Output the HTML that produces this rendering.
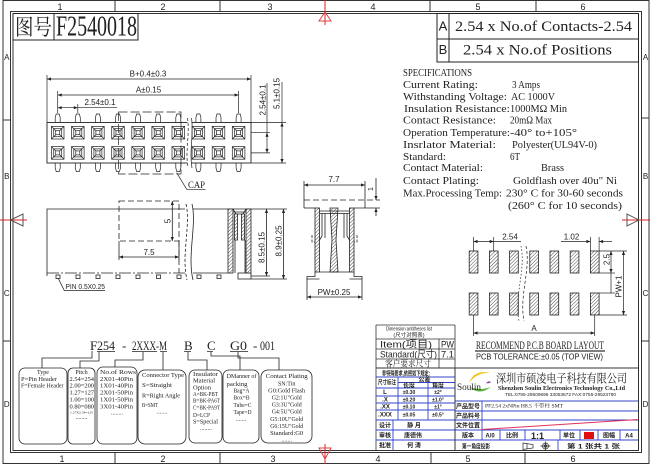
<!DOCTYPE html>
<html><head><meta charset="utf-8"><style>
html,body{margin:0;padding:0;background:#fff;}
svg{display:block;}
text{font-family:"Liberation Serif","Noto Serif CJK SC",serif;fill:#222;stroke:none;}
.s{font-family:"Liberation Sans","Noto Sans CJK SC",sans-serif;}
.c{font-family:"Liberation Sans","Noto Sans CJK SC",sans-serif;font-weight:bold;}
</style></head><body>
<svg width="650" height="464" viewBox="0 0 650 464" xmlns="http://www.w3.org/2000/svg">
<defs>
<marker id="a" viewBox="0 0 10 10" refX="10" refY="5" markerWidth="5" markerHeight="4" orient="auto-start-reverse" markerUnits="userSpaceOnUse"><path d="M0,1 L10,5 L0,9z" fill="#222"/></marker>
<pattern id="h" width="2.5" height="2.5" patternUnits="userSpaceOnUse" patternTransform="rotate(45)"><rect width="2.5" height="2.5" fill="#fff"/><line x1="0" y1="0" x2="0" y2="2.5" stroke="#333" stroke-width="0.9"/></pattern>
<g id="sq" stroke="#222" stroke-width="0.7" fill="none">
<rect x="-6.3" y="-6.3" width="12.6" height="12.6"/>
<rect x="-4" y="-4" width="8" height="8"/>
<rect x="-2" y="-2" width="4" height="4"/>
<path d="M-6.3,-6.3L-2,-2M6.3,-6.3L2,-2M-6.3,6.3L-2,2M6.3,6.3L2,2"/>
</g>
<path id="pu" d="M-2.5,0 L-2.5,-5 L-1.5,-8.5 L1.5,-8.5 L2.5,-5 L2.5,0" stroke="#222" stroke-width="0.7" fill="none"/>
<path id="pd" d="M-2.5,0 L-2.5,5 L-1.5,8.5 L1.5,8.5 L2.5,5 L2.5,0" stroke="#222" stroke-width="0.7" fill="none"/>
</defs>

<!-- FRAME -->
<g stroke="#333" fill="none" stroke-width="1">
<rect x="3" y="0.5" width="646" height="463"/>
<rect x="10.5" y="11.5" width="631" height="441"/>
<rect x="13" y="13.5" width="625.5" height="437"/>
<path d="M115,0.5V11.5M220,0.5V11.5M430,0.5V11.5M536,0.5V11.5"/>
<path d="M115,452.5V463.5M220,452.5V463.5M431,452.5V463.5M525,452.5V463.5"/>
<path d="M3,120H10.5M3,341H10.5M641.5,118H649M641.5,341H649"/>
</g>
<g class="s" font-size="9" text-anchor="middle">
<text class="s" x="60" y="10">1</text><text class="s" x="163" y="10">2</text><text class="s" x="270" y="10">3</text>
<text class="s" x="373" y="10">4</text><text class="s" x="478" y="10">5</text><text class="s" x="583" y="10">6</text>
<text class="s" x="62" y="462">1</text><text class="s" x="163" y="462">2</text><text class="s" x="273" y="462">3</text>
<text class="s" x="378" y="462">4</text><text class="s" x="468" y="462">5</text><text class="s" x="573" y="462">6</text>
<text class="s" x="6.8" y="60" font-size="8">A</text><text class="s" x="6.8" y="179" font-size="8">B</text>
<text class="s" x="6.8" y="296" font-size="8">C</text><text class="s" x="6.8" y="407" font-size="8">D</text>
<text class="s" x="645.5" y="60" font-size="8">A</text><text class="s" x="645.5" y="179" font-size="8">B</text>
<text class="s" x="645.5" y="296" font-size="8">C</text><text class="s" x="645.5" y="407" font-size="8">D</text>
</g>
<!-- markers -->
<g fill="none" stroke-width="1">
<line x1="0" y1="220" x2="27" y2="220" stroke="#e02020"/>
<path d="M10.5,220 L23,214 L23,226Z" stroke="#555"/>
<line x1="622" y1="220" x2="650" y2="220" stroke="#e02020"/>
<path d="M639,220 L627,214 L627,226Z" stroke="#555"/>
<line x1="325" y1="0" x2="325" y2="25" stroke="#e02020"/>
<path d="M325,12 L319,21 L331,21Z" stroke="#e04040"/>
<line x1="325" y1="444" x2="325" y2="464" stroke="#e02020"/>
<path d="M319,448 L331,448 L325,459Z" stroke="#e04040"/>
</g>

<!-- TITLE top-left -->
<g stroke="#222" fill="none" stroke-width="1">
<rect x="13" y="13.5" width="125" height="26.5"/>
<line x1="54" y1="13.5" x2="54" y2="40"/>
</g>
<text x="15" y="35" font-size="22" font-family="'Noto Sans CJK SC',sans-serif" textLength="37" lengthAdjust="spacingAndGlyphs">图号</text>
<text x="56" y="35.5" font-size="28" textLength="81" lengthAdjust="spacingAndGlyphs">F2540018</text>

<!-- A/B table -->
<g stroke="#222" fill="none" stroke-width="1">
<rect x="437" y="13.5" width="201.5" height="48.5"/>
<line x1="437" y1="39" x2="638.5" y2="39"/>
<line x1="449" y1="13.5" x2="449" y2="62"/>
</g>
<text class="s" x="443" y="30.5" font-size="13" text-anchor="middle">A</text>
<text class="s" x="443" y="54" font-size="13" text-anchor="middle">B</text>
<text x="455" y="31" font-size="15" textLength="177" lengthAdjust="spacingAndGlyphs">2.54 x No.of Contacts-2.54</text>
<text x="463" y="54.5" font-size="15" textLength="149" lengthAdjust="spacingAndGlyphs">2.54 x No.of Positions</text>

<!-- SPECIFICATIONS -->
<g font-size="11" fill="#333">
<text x="403" y="76" textLength="69" lengthAdjust="spacingAndGlyphs">SPECIFICATIONS</text>
<text x="403" y="88" textLength="75" lengthAdjust="spacingAndGlyphs">Current Rating:</text>
<text x="512" y="88" textLength="28" lengthAdjust="spacingAndGlyphs">3 Amps</text>
<text x="403" y="100" textLength="104" lengthAdjust="spacingAndGlyphs">Withstanding Voltage:</text>
<text x="511" y="100" textLength="44" lengthAdjust="spacingAndGlyphs">AC  1000V</text>
<text x="404" y="112" textLength="106" lengthAdjust="spacingAndGlyphs">Insulation Resistance:</text>
<text x="510" y="112" textLength="57" lengthAdjust="spacingAndGlyphs">1000MΩ  Min</text>
<text x="403" y="123.5" textLength="93" lengthAdjust="spacingAndGlyphs">Contact Resistance:</text>
<text x="510" y="123.5" textLength="42" lengthAdjust="spacingAndGlyphs">20mΩ Max</text>
<text x="403" y="136" textLength="107" lengthAdjust="spacingAndGlyphs">Operation Temperature:</text>
<text x="510" y="136" textLength="67" lengthAdjust="spacingAndGlyphs">-40° to+105°</text>
<text x="403" y="148" textLength="93" lengthAdjust="spacingAndGlyphs">Insrlator Material:</text>
<text x="512" y="148" textLength="85" lengthAdjust="spacingAndGlyphs">Polyester(UL94V-0)</text>
<text x="403" y="160" textLength="43" lengthAdjust="spacingAndGlyphs">Standard:</text>
<text x="510" y="160" textLength="10" lengthAdjust="spacingAndGlyphs">6T</text>
<text x="403" y="171" textLength="80" lengthAdjust="spacingAndGlyphs">Contact Material:</text>
<text x="541" y="171" textLength="23" lengthAdjust="spacingAndGlyphs">Brass</text>
<text x="403" y="184" textLength="76" lengthAdjust="spacingAndGlyphs">Contact Plating:</text>
<text x="513" y="184" textLength="104" lengthAdjust="spacingAndGlyphs">Goldflash over 40u" Ni</text>
<text x="403" y="196.5" textLength="99" lengthAdjust="spacingAndGlyphs">Max.Processing Temp:</text>
<text x="506" y="196.5" textLength="117" lengthAdjust="spacingAndGlyphs">230° C for 30-60 seconds</text>
<text x="508" y="209" textLength="114" lengthAdjust="spacingAndGlyphs">(260° C for  10 seconds)</text>
</g>

<!-- TOP VIEW -->
<g stroke="#222" stroke-width="0.7" fill="none">
<line x1="47" y1="79" x2="251" y2="79" marker-start="url(#a)" marker-end="url(#a)"/>
<line x1="47" y1="75" x2="47" y2="122.5"/>
<line x1="251" y1="75" x2="251" y2="122.5"/>
<line x1="57.7" y1="95" x2="238.6" y2="95" marker-start="url(#a)" marker-end="url(#a)"/>
<line x1="57.7" y1="91" x2="57.7" y2="113"/>
<line x1="238.6" y1="91" x2="238.6" y2="113"/>
<line x1="57.7" y1="107.7" x2="77.8" y2="107.7" marker-start="url(#a)" marker-end="url(#a)"/>
<line x1="77.8" y1="107.7" x2="117" y2="107.7"/>
<line x1="77.8" y1="104" x2="77.8" y2="113"/>
<rect x="47" y="122.5" width="204" height="40.5" stroke-width="0.9"/>
<!-- right dims -->
<line x1="251" y1="122.5" x2="286" y2="122.5"/>
<line x1="251" y1="163" x2="286" y2="163"/>
<line x1="251" y1="132.7" x2="270" y2="132.7"/>
<line x1="251" y1="152.9" x2="270" y2="152.9"/>
<line x1="267" y1="83" x2="267" y2="132.7"/>
<line x1="267" y1="132.7" x2="267" y2="152.9" marker-start="url(#a)" marker-end="url(#a)"/>
<line x1="282" y1="82" x2="282" y2="122.5"/>
<line x1="282" y1="122.5" x2="282" y2="163" marker-start="url(#a)" marker-end="url(#a)"/>
</g>
<g>
<use href="#sq" x="57.7" y="132.7"/><use href="#sq" x="77.8" y="132.7"/><use href="#sq" x="97.9" y="132.7"/><use href="#sq" x="118" y="132.7"/><use href="#sq" x="138.1" y="132.7"/><use href="#sq" x="158.2" y="132.7"/><use href="#sq" x="178.3" y="132.7"/><use href="#sq" x="198.4" y="132.7"/><use href="#sq" x="218.5" y="132.7"/><use href="#sq" x="238.6" y="132.7"/>
<use href="#sq" x="57.7" y="152.9"/><use href="#sq" x="77.8" y="152.9"/><use href="#sq" x="97.9" y="152.9"/><use href="#sq" x="118" y="152.9"/><use href="#sq" x="138.1" y="152.9"/><use href="#sq" x="158.2" y="152.9"/><use href="#sq" x="178.3" y="152.9"/><use href="#sq" x="198.4" y="152.9"/><use href="#sq" x="218.5" y="152.9"/><use href="#sq" x="238.6" y="152.9"/>
<use href="#pu" x="57.7" y="122.5"/><use href="#pu" x="77.8" y="122.5"/><use href="#pu" x="97.9" y="122.5"/><use href="#pu" x="118" y="122.5"/><use href="#pu" x="138.1" y="122.5"/><use href="#pu" x="158.2" y="122.5"/><use href="#pu" x="178.3" y="122.5"/><use href="#pu" x="198.4" y="122.5"/><use href="#pu" x="218.5" y="122.5"/><use href="#pu" x="238.6" y="122.5"/>
<use href="#pd" x="57.7" y="163"/><use href="#pd" x="77.8" y="163"/><use href="#pd" x="97.9" y="163"/><use href="#pd" x="118" y="163"/><use href="#pd" x="138.1" y="163"/><use href="#pd" x="158.2" y="163"/><use href="#pd" x="178.3" y="163"/><use href="#pd" x="198.4" y="163"/><use href="#pd" x="218.5" y="163"/><use href="#pd" x="238.6" y="163"/>
</g>
<g stroke="#222" stroke-width="0.7" fill="none">
<rect x="187.5" y="120" width="4" height="46" fill="#fff" stroke="none"/>
<path d="M187.5,118 C190,135 185,150 188,168" stroke-dasharray="3,2"/>
<path d="M191.5,118 C194,135 189,150 192,168"/>
<rect x="118.5" y="112" width="62.5" height="62" stroke-dasharray="9,3"/>
<polyline points="176.7,172.7 186.7,189.3 205.5,189.3"/>
</g>
<text x="188" y="188" font-size="9.5" textLength="17" lengthAdjust="spacingAndGlyphs">CAP</text>
<g class="s" font-size="8">
<text class="s" x="148" y="76.5" text-anchor="middle">B+0.4±0.3</text>
<text class="s" x="148.5" y="92.5" text-anchor="middle">A±0.15</text>
<text class="s" x="100" y="105" text-anchor="middle">2.54±0.1</text>
<text class="s" transform="translate(265.5,100) rotate(-90)" text-anchor="middle">2.54±0.1</text>
<text class="s" transform="translate(279.5,93.5) rotate(-90)" text-anchor="middle">5.1±0.15</text>
</g>

<!-- SIDE VIEW -->
<g stroke="#222" stroke-width="0.8" fill="none">
<polyline points="185,209 47,209 47,276"/>
<line x1="193" y1="209" x2="251" y2="209"/>
<line x1="47" y1="273" x2="186" y2="273" stroke-dasharray="12,2,2,2"/>
<line x1="193" y1="273" x2="228" y2="273"/>
<path d="M186,204 C191,225 181,255 187,280" stroke-dasharray="3,2"/>
<path d="M192,204 C197,225 187,255 193,280"/>
<rect x="119" y="201" width="60" height="40" stroke-dasharray="6,3"/>
<line x1="179" y1="241" x2="179" y2="273" stroke-dasharray="6,3"/>
<line x1="119" y1="241" x2="119" y2="260"/>
<line x1="179" y1="241" x2="179" y2="260"/>
<line x1="119" y1="257" x2="179" y2="257" marker-start="url(#a)" marker-end="url(#a)"/>
<line x1="172.3" y1="201" x2="172.3" y2="241" marker-start="url(#a)" marker-end="url(#a)"/>
<rect x="56" y="275" width="4" height="3.5"/><rect x="76" y="275" width="4" height="3.5"/><rect x="96" y="275" width="4" height="3.5"/><rect x="116" y="275" width="4" height="3.5"/><rect x="136" y="275" width="4" height="3.5"/><rect x="156.5" y="275" width="4" height="3.5"/><rect x="177" y="275" width="4" height="3.5"/><rect x="197" y="275" width="4" height="3.5"/><rect x="217" y="275" width="4" height="3.5"/>
<rect x="238" y="273" width="13" height="6"/>
<rect x="228" y="209" width="5" height="64" fill="url(#h)"/>
<rect x="246" y="209" width="5" height="64" fill="url(#h)"/>
<polyline points="233,209 236,214 243,214 246,209"/>
<line x1="233" y1="212" x2="246" y2="212"/>
<rect x="234.5" y="214" width="3" height="26" fill="url(#h)"/>
<rect x="241.5" y="214" width="3" height="26" fill="url(#h)"/>
<line x1="235" y1="240" x2="235" y2="273"/>
<line x1="245" y1="240" x2="245" y2="273"/>
<line x1="251" y1="209" x2="287" y2="209"/>
<line x1="251" y1="276" x2="270" y2="276"/>
<line x1="251" y1="279" x2="287" y2="279"/>
<line x1="266.5" y1="209" x2="266.5" y2="276" marker-start="url(#a)" marker-end="url(#a)"/>
<line x1="283.5" y1="209" x2="283.5" y2="279" marker-start="url(#a)" marker-end="url(#a)"/>
<polyline points="58.3,278.5 64.3,290.5 105,290.5"/>
</g>
<g class="s" font-size="8">
<text class="s" x="149" y="255" text-anchor="middle">7.5</text>
<text class="s" transform="translate(170.5,221) rotate(-90)" text-anchor="middle">5</text>
<text class="s" transform="translate(264.5,247.5) rotate(-90)" text-anchor="middle">8.5±0.15</text>
<text class="s" transform="translate(281.5,241) rotate(-90)" text-anchor="middle">8.9±0.25</text>
<text class="s" x="65.5" y="289" font-size="7" textLength="39.5" lengthAdjust="spacingAndGlyphs">PIN 0.5X0.25</text>
</g>

<!-- FRONT SECTION -->
<g stroke="#222" stroke-width="0.8" fill="none">
<line x1="304" y1="185" x2="365" y2="185" marker-start="url(#a)" marker-end="url(#a)"/>
<line x1="304" y1="181" x2="304" y2="208"/>
<line x1="365" y1="181" x2="365" y2="208"/>
<line x1="304" y1="200" x2="380" y2="200" stroke-dasharray="6,3"/>
<line x1="304" y1="208" x2="315" y2="208"/>
<line x1="354" y1="208" x2="380" y2="208"/>
<line x1="376" y1="178" x2="376" y2="200" marker-end="url(#a)"/>
<line x1="376" y1="216" x2="376" y2="208" marker-end="url(#a)"/>
<rect x="315" y="208" width="4.5" height="64" fill="url(#h)"/>
<rect x="349.5" y="208" width="4.5" height="64" fill="url(#h)"/>
<path d="M330,208 L338,208 L336,240 L338,272 L330,272 L332,240Z" fill="url(#h)"/>
<line x1="319.5" y1="211" x2="349.5" y2="211"/>
<line x1="319.5" y1="213.5" x2="349.5" y2="213.5"/>
<polyline points="322,213.5 322,236 319.5,240"/>
<polyline points="325,213.5 325,238"/>
<polyline points="347,213.5 347,236 349.5,240"/>
<polyline points="344,213.5 344,238"/>
<polyline points="312,235 312,242 315,242" stroke-dasharray="3,1.5"/>
<polyline points="357,235 357,242 354,242" stroke-dasharray="3,1.5"/>
<line x1="319.5" y1="272" x2="349.5" y2="272"/>
<polyline points="315,272 315,276.5 307,276.5 307,279 319.5,279"/>
<polyline points="354,272 354,276.5 362,276.5 362,279 349.5,279"/>
<line x1="307" y1="279" x2="307" y2="300"/>
<line x1="362" y1="279" x2="362" y2="300"/>
<line x1="307" y1="297" x2="362" y2="297" marker-start="url(#a)" marker-end="url(#a)"/>
</g>
<g class="s" font-size="8">
<text class="s" x="334" y="182" text-anchor="middle">7.7</text>
<text class="s" transform="translate(373,189) rotate(-90)" text-anchor="middle" font-size="7">1</text>
<text class="s" x="334" y="295" text-anchor="middle">PW±0.25</text>
</g>

<!-- PCB LAYOUT -->
<g stroke="#222" stroke-width="0.8" fill="url(#h)">
<rect x="469.2" y="251" width="8.7" height="22"/><rect x="489.4" y="251" width="8.7" height="22"/><rect x="509.6" y="251" width="8.7" height="22"/><rect x="529.8" y="251" width="8.7" height="22"/><rect x="550" y="251" width="8.7" height="22"/><rect x="570.2" y="251" width="8.7" height="22"/><rect x="590.4" y="251" width="8.7" height="22"/>
<rect x="469.2" y="293" width="8.7" height="22"/><rect x="489.4" y="293" width="8.7" height="22"/><rect x="509.6" y="293" width="8.7" height="22"/><rect x="529.8" y="293" width="8.7" height="22"/><rect x="550" y="293" width="8.7" height="22"/><rect x="570.2" y="293" width="8.7" height="22"/><rect x="590.4" y="293" width="8.7" height="22"/>
</g>
<g stroke="#222" stroke-width="0.7" fill="none">
<path d="M526,246 C531,270 519,295 524,321" stroke-dasharray="3,2"/>
<path d="M521,246 C526,270 514,295 519,321" stroke-dasharray="1.5,2"/>
<line x1="473.5" y1="237" x2="473.5" y2="251"/>
<line x1="493.7" y1="237" x2="493.7" y2="251"/>
<line x1="473.5" y1="241.5" x2="493.7" y2="241.5" marker-start="url(#a)" marker-end="url(#a)"/>
<line x1="493.7" y1="241.5" x2="521" y2="241.5"/>
<line x1="590.4" y1="237" x2="590.4" y2="251"/>
<line x1="599.1" y1="237" x2="599.1" y2="251"/>
<line x1="561" y1="241.5" x2="590.4" y2="241.5" marker-end="url(#a)"/>
<line x1="612" y1="241.5" x2="599.1" y2="241.5" marker-end="url(#a)"/>
<line x1="599.1" y1="251" x2="627" y2="251"/>
<line x1="599.1" y1="273" x2="615" y2="273"/>
<line x1="599.1" y1="293" x2="615" y2="293"/>
<line x1="599.1" y1="315" x2="627" y2="315"/>
<line x1="611" y1="251" x2="611" y2="273" marker-start="url(#a)" marker-end="url(#a)"/>
<line x1="611" y1="273" x2="611" y2="293"/>
<line x1="623.5" y1="251" x2="623.5" y2="315" marker-start="url(#a)" marker-end="url(#a)"/>
<line x1="473.5" y1="315" x2="473.5" y2="336"/>
<line x1="594.7" y1="315" x2="594.7" y2="336"/>
<line x1="473.5" y1="333" x2="594.7" y2="333" marker-start="url(#a)" marker-end="url(#a)"/>
</g>
<g class="s" font-size="8">
<text class="s" x="510" y="239.5" text-anchor="middle">2.54</text>
<text class="s" x="571.5" y="239.5" text-anchor="middle">1.02</text>
<text class="s" transform="translate(609.5,259.5) rotate(-90)" text-anchor="middle">2.5</text>
<text class="s" transform="translate(621.5,286.5) rotate(-90)" text-anchor="middle">PW+1</text>
<text class="s" x="534" y="331" text-anchor="middle">A</text>
</g>
<text x="476" y="349" font-size="11.5" fill="#333" textLength="128" lengthAdjust="spacingAndGlyphs">RECOMMEND P.C.B BOARD LAYOUT</text>
<line x1="475" y1="351" x2="605" y2="351" stroke="#333" stroke-width="1.3"/>
<text class="s" x="476" y="359.5" font-size="8.5" textLength="127" lengthAdjust="spacingAndGlyphs">PCB TOLERANCE:±0.05 (TOP VIEW)</text>

<!-- PART NUMBER -->
<g font-size="13" fill="#222">
<text x="90" y="350">F</text>
<text x="97" y="350" textLength="18" lengthAdjust="spacingAndGlyphs">254</text>
<text x="122" y="350">-</text>
<text x="132" y="350" textLength="35" lengthAdjust="spacingAndGlyphs">2XXX-M</text>
<text x="184" y="350">B</text>
<text x="207" y="350">C</text>
<text x="230" y="350" textLength="17" lengthAdjust="spacingAndGlyphs">G0</text>
<text x="253" y="350">-</text>
<text x="260" y="350" textLength="15" lengthAdjust="spacingAndGlyphs">001</text>
</g>
<g stroke="#222" stroke-width="0.8" fill="none">
<path d="M97,351.5H115M132,351.5H157M160,351.5H167M184,351.5H191M207,351.5H213M230,351.5H248"/>
<polyline points="92,351 92,358 42,358 42,368"/>
<polyline points="99,352 99,361 80,361 80,368"/>
<polyline points="143,352 143,360 115,360 115,367"/>
<line x1="163" y1="352" x2="163" y2="370"/>
<polyline points="188,352 188,360 207,360 207,370"/>
<polyline points="211,352 211,356 240,356 240,370"/>
<polyline points="238,352 238,358 279,358 279,370"/>
<rect x="19" y="368" width="48" height="76" rx="6"/>
<rect x="68" y="368" width="27" height="76" rx="5"/>
<rect x="97" y="367" width="40" height="77" rx="6"/>
<rect x="138" y="370" width="48" height="74" rx="7"/>
<rect x="189" y="370" width="33" height="73" rx="6"/>
<rect x="223" y="370" width="36" height="73" rx="6"/>
<rect x="261" y="370" width="51" height="73" rx="7"/>
</g>
<g font-size="6" fill="#333">
<text x="43" y="374" text-anchor="middle">Type</text>
<text x="21" y="381" textLength="36" lengthAdjust="spacingAndGlyphs">P=Pin Header</text>
<text x="21" y="387.5" textLength="42.5" lengthAdjust="spacingAndGlyphs">F=Female Header</text>
<text x="81.5" y="374" text-anchor="middle">Pitch</text>
<text x="69.5" y="381" textLength="24.5" lengthAdjust="spacingAndGlyphs">2.54=254</text>
<text x="69.5" y="387.5" textLength="24.5" lengthAdjust="spacingAndGlyphs">2.00=200</text>
<text x="69.5" y="394.5" textLength="24.5" lengthAdjust="spacingAndGlyphs">1.27=127</text>
<text x="69.5" y="401.5" textLength="24.5" lengthAdjust="spacingAndGlyphs">1.00=100</text>
<text x="69.5" y="408.5" textLength="24.5" lengthAdjust="spacingAndGlyphs">0.80=080</text>
<text x="70" y="413.5" font-size="3.5" textLength="23" lengthAdjust="spacingAndGlyphs">1.27X2.54=125</text>
<text x="81.5" y="419" text-anchor="middle">........</text>
<text x="100" y="374" textLength="36" lengthAdjust="spacingAndGlyphs">No.of Rows</text>
<text x="100" y="381" textLength="33" lengthAdjust="spacingAndGlyphs">2X01-40Pin</text>
<text x="100" y="387.5" textLength="33" lengthAdjust="spacingAndGlyphs">1X01-40Pin</text>
<text x="100" y="394.5" textLength="33" lengthAdjust="spacingAndGlyphs">2X01-50Pin</text>
<text x="100" y="401.5" textLength="33" lengthAdjust="spacingAndGlyphs">1X01-50Pin</text>
<text x="100" y="408.5" textLength="33" lengthAdjust="spacingAndGlyphs">3X01-40Pin</text>
<text x="117" y="414.5" text-anchor="middle">........</text>
<text x="142" y="377" textLength="42" lengthAdjust="spacingAndGlyphs">Connector Type</text>
<text x="142" y="387" textLength="30" lengthAdjust="spacingAndGlyphs">S=Straight</text>
<text x="142" y="397.5" textLength="38" lengthAdjust="spacingAndGlyphs">R=Right Angle</text>
<text x="142" y="407" textLength="16" lengthAdjust="spacingAndGlyphs">B=SMT</text>
<text x="162" y="413.5" text-anchor="middle">.......</text>
<text x="193" y="376" textLength="25" lengthAdjust="spacingAndGlyphs">Insulator</text>
<text x="193" y="382.7" textLength="22" lengthAdjust="spacingAndGlyphs">Material</text>
<text x="193" y="389.3" textLength="18" lengthAdjust="spacingAndGlyphs">Option</text>
<text x="193" y="396" textLength="25" lengthAdjust="spacingAndGlyphs">A=BK-PBT</text>
<text x="193" y="402.7" textLength="27" lengthAdjust="spacingAndGlyphs">B=BK-PA6T</text>
<text x="193" y="409.7" textLength="27" lengthAdjust="spacingAndGlyphs">C=BK-PA9T</text>
<text x="193" y="417" textLength="17" lengthAdjust="spacingAndGlyphs">D=LCP</text>
<text x="193" y="423.7" textLength="25" lengthAdjust="spacingAndGlyphs">S=Special</text>
<text x="206" y="430" text-anchor="middle">........</text>
<text x="226.5" y="378" textLength="30" lengthAdjust="spacingAndGlyphs">DManner of</text>
<text x="226.5" y="386" textLength="21" lengthAdjust="spacingAndGlyphs">packing</text>
<text x="233.5" y="392.7" textLength="16" lengthAdjust="spacingAndGlyphs">Bag=A</text>
<text x="233.5" y="399.7" textLength="16" lengthAdjust="spacingAndGlyphs">Box=B</text>
<text x="233.5" y="407" textLength="18" lengthAdjust="spacingAndGlyphs">Tube=C</text>
<text x="233.5" y="414" textLength="18" lengthAdjust="spacingAndGlyphs">Tape=D</text>
<text x="241" y="421" text-anchor="middle">.......</text>
<g text-anchor="middle">
<text x="286.7" y="378" textLength="42" lengthAdjust="spacingAndGlyphs">Contact Plating</text>
<text x="286.7" y="385.3">SN:Tin</text>
<text x="286.7" y="392.7" textLength="37" lengthAdjust="spacingAndGlyphs">G0:Gold Flash</text>
<text x="286.7" y="399.7" textLength="30" lengthAdjust="spacingAndGlyphs">G2:1U"Gold</text>
<text x="286.7" y="406.7" textLength="30" lengthAdjust="spacingAndGlyphs">G3:3U"Gold</text>
<text x="286.7" y="413.7" textLength="30" lengthAdjust="spacingAndGlyphs">G4:5U"Gold</text>
<text x="286.7" y="421" textLength="33" lengthAdjust="spacingAndGlyphs">G5:10U"Gold</text>
<text x="286.7" y="428" textLength="33" lengthAdjust="spacingAndGlyphs">G6:15U"Gold</text>
<text x="286.7" y="435" textLength="33" lengthAdjust="spacingAndGlyphs">Standard:G0</text>
<text x="286.7" y="441.5">.......</text>
</g>
</g>

<!-- DIMENSION LIST TABLE -->
<g stroke="#333" stroke-width="0.8" fill="none">
<line x1="376" y1="325" x2="455" y2="325"/>
<line x1="376" y1="325" x2="376" y2="451"/>
<line x1="455" y1="325" x2="455" y2="451"/>
<line x1="376" y1="339" x2="455" y2="339"/>
<line x1="376" y1="349" x2="455" y2="349"/>
<line x1="376" y1="359" x2="455" y2="359"/>
<line x1="439" y1="339" x2="439" y2="368"/>
<line x1="376" y1="368" x2="638" y2="368" stroke-width="1"/>
</g>
<text class="s" x="409" y="330.5" font-size="5.5" text-anchor="middle" textLength="46" lengthAdjust="spacingAndGlyphs">Dimension antitheses list</text>
<text class="s" x="409" y="337" font-size="5.5" text-anchor="middle">(尺寸对照表)</text>
<text class="s" x="380" y="347.3" font-size="9.5" textLength="52" lengthAdjust="spacingAndGlyphs">Item(项目)</text>
<text class="s" x="441" y="347.3" font-size="9.5" textLength="13" lengthAdjust="spacingAndGlyphs">PW</text>
<text class="s" x="380" y="357.3" font-size="9.5" textLength="57" lengthAdjust="spacingAndGlyphs">Standard(尺寸)</text>
<text class="s" x="441" y="357.5" font-size="9.5" textLength="13" lengthAdjust="spacingAndGlyphs">7.1</text>
<text x="385" y="366.5" font-size="8.5" fill="#999" textLength="46" lengthAdjust="spacingAndGlyphs">客户要求尺寸</text>

<!-- TITLE BLOCK -->
<text class="c" x="382" y="375.5" font-size="6" fill="#e01010" textLength="48" lengthAdjust="spacingAndGlyphs">非特殊要求,依照如下规定:</text>
<g stroke="#3344cc" stroke-width="0.9" fill="none">
<path d="M376,377H455M398,382.5H455M376,388H455M376,396H455M376,403H455M376,410H455M376,420H455M376,430H455M376,440H455"/>
<path d="M398,377V420M428,382.5V420M393,420V451"/>
<path d="M455,401H638M455,411H638M455,420H638M455,430H638M455,440H638"/>
<path d="M482,401V440M500,430V440M525,430V440M560,430V440M580,430V440M598,430V440M620,430V440"/>
</g>
<line x1="482" y1="429.5" x2="637" y2="419.5" stroke="#e0305a" stroke-width="1"/>
<line x1="455" y1="368" x2="455" y2="451" stroke="#333" stroke-width="0.9"/>
<line x1="558" y1="440" x2="558" y2="451" stroke="#3344cc" stroke-width="0.9"/>
<g class="c" font-size="6" fill="#111">
<text class="c" x="378" y="384.5" textLength="18" lengthAdjust="spacingAndGlyphs">尺寸标注</text>
<text class="c" x="424.5" y="381.7" text-anchor="middle">公差</text>
<text class="c" x="409" y="387.3" text-anchor="middle">长度</text>
<text class="c" x="438" y="387.3" text-anchor="middle">角度</text>
<text class="c" x="385" y="394" text-anchor="middle">L</text>
<text class="c" x="385" y="401.5" text-anchor="middle">.X</text>
<text class="c" x="385" y="408.5" text-anchor="middle">.XX</text>
<text class="c" x="385" y="416.5" text-anchor="middle">.XXX</text>
<text class="c" x="409" y="394" text-anchor="middle" font-size="5">±0.30</text>
<text class="c" x="409" y="401.5" text-anchor="middle" font-size="5">±0.20</text>
<text class="c" x="409" y="408.5" text-anchor="middle" font-size="5">±0.10</text>
<text class="c" x="409" y="416.5" text-anchor="middle" font-size="5">±0.05</text>
<text class="c" x="438" y="394" text-anchor="middle" font-size="5">±2°</text>
<text class="c" x="438" y="401.5" text-anchor="middle" font-size="5">±1.0°</text>
<text class="c" x="438" y="408.5" text-anchor="middle" font-size="5">±1°</text>
<text class="c" x="438" y="416.5" text-anchor="middle" font-size="5">±0.5°</text>
<text class="c" x="385" y="427.5" text-anchor="middle">设计</text>
<text class="c" x="414" y="427.5" text-anchor="middle">静 月</text>
<text class="c" x="385" y="437.5" text-anchor="middle">审核</text>
<text class="c" x="413" y="437.5" text-anchor="middle">唐德伟</text>
<text class="c" x="385" y="447.5" text-anchor="middle">批准</text>
<text class="c" x="414" y="447.5" text-anchor="middle">何 涛</text>
<text class="c" x="468" y="408.3" text-anchor="middle">产品型号</text>
<text class="c" x="468" y="417.8" text-anchor="middle">产品料号</text>
<text class="c" x="468" y="427.3" text-anchor="middle">文件位置</text>
<text class="c" x="468" y="437.3" text-anchor="middle">版本</text>
<text class="c" x="490" y="437.3" text-anchor="middle">A/0</text>
<text class="c" x="512" y="437.3" text-anchor="middle">比例</text>
<text class="c" x="569" y="437.3" text-anchor="middle">单位</text>
<text class="c" x="609" y="437.3" text-anchor="middle">图幅</text>
<text class="c" x="629" y="437.3" text-anchor="middle">A4</text>
<text class="c" x="462" y="448.3" textLength="28" lengthAdjust="spacingAndGlyphs">第一角度投影</text>
<text class="c" x="567" y="448.3" textLength="53" lengthAdjust="spacingAndGlyphs">第 1 张共 1 张</text>
</g>
<text class="c" x="537.5" y="438.8" font-size="9" fill="#e01010" text-anchor="middle">1:1</text>
<rect x="584" y="432" width="10" height="7" fill="#e01010"/>
<g stroke="#222" stroke-width="0.7" fill="none">
<path d="M523,443 L533,444.5 L533,448 L523,449.5Z"/>
<line x1="527" y1="443.5" x2="527" y2="449"/>
<circle cx="545.5" cy="446" r="3"/>
<circle cx="545.5" cy="446" r="1.3"/>
<path d="M540.5,446H550.5M545.5,441.5V450.5"/>
</g>
<text x="485" y="407.5" font-size="5" fill="#888" textLength="78" lengthAdjust="spacingAndGlyphs">PF2.54 2xNPin H8.5 不带柱 SMT</text>
<!-- logo -->
<path d="M469,383 Q474,369 491,373 Q477,372 469,383Z" fill="#f2c318"/>
<path d="M470,387 Q479,396 491,387 Q480,391 470,387Z" fill="#5fb33a"/>
<path d="M486,383 Q489,380 491,382 Q489,384 486,383Z" fill="#8a4bb0"/>
<text x="457" y="390" font-size="9" fill="#333" textLength="24" lengthAdjust="spacingAndGlyphs">Soulin</text>
<text x="496" y="382.5" font-size="12" fill="#444" font-family="'Noto Serif CJK SC',serif" textLength="131" lengthAdjust="spacingAndGlyphs">深圳市硕凌电子科技有限公司</text>
<text x="498" y="389.8" font-size="6.5" font-weight="bold" fill="#111" textLength="127" lengthAdjust="spacingAndGlyphs">Shenzhen Soulin Electronics Technology Co.,Ltd</text>
<text class="s" x="505" y="396" font-size="4.5" fill="#e01010" textLength="111" lengthAdjust="spacingAndGlyphs">TEL:0755-29509696 33053672  FAX:0755-29523780</text>
</svg>
</body></html>
